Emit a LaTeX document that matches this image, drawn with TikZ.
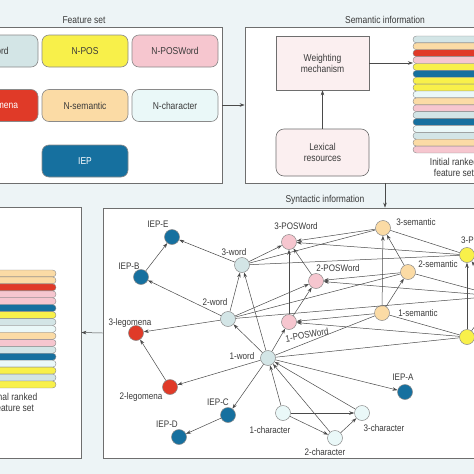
\documentclass[tikz,border=0pt]{standalone}
\usepackage{fontspec}
\setmainfont{Liberation Sans}[FakeStretch=0.85]
\usetikzlibrary{arrows.meta}
\definecolor{bg}{HTML}{EDF4F6}
\definecolor{frameline}{HTML}{6E6E6E}
\definecolor{boxline}{HTML}{8A8A8A}
\definecolor{txt}{HTML}{3A3A3A}
\definecolor{edge}{HTML}{4A4A4A}
\definecolor{cgrey}{HTML}{D3E5E6}
\definecolor{cyel}{HTML}{F8F04A}
\definecolor{cpink}{HTML}{F6C6CF}
\definecolor{cred}{HTML}{E03A28}
\definecolor{cpeach}{HTML}{FBDBA5}
\definecolor{clight}{HTML}{EAF8F8}
\definecolor{cblue}{HTML}{16709F}
\definecolor{cwm}{HTML}{FBEFF0}
\newcommand\myfs[1]{\fontsize{#1}{#1}\selectfont}
\begin{document}
\begin{tikzpicture}[x=1pt,y=-1pt,
  frame/.style={draw=frameline, fill=white, line width=0.7pt, inner sep=0pt},
  ttl/.style={text=txt, font=\myfs{10}, inner sep=0pt},
  fbox/.style={draw=boxline, rounded corners=7pt, minimum width=86pt, minimum height=32pt, font=\myfs{10}, text=txt, line width=0.6pt, inner sep=0pt},
  wbox/.style={draw=frameline, fill=cwm, minimum width=93pt, font=\myfs{10}, text=txt, align=center, line width=0.6pt, inner sep=0pt},
  gn/.style={circle, draw=boxline, minimum size=15pt, inner sep=0pt, line width=0.5pt},
  lb/.style={text=txt, font=\myfs{9.5}, inner sep=0pt},
  arr/.style={-{Stealth[length=5pt,width=3.5pt]}, draw=edge, line width=0.5pt},
  ln/.style={draw=edge, line width=0.5pt},
  bar/.style={draw=boxline, line width=0.4pt, rounded corners=3.4pt}]
\useasboundingbox (0,0) rectangle (474,474);
\clip (0,0) rectangle (474,474);
\fill[bg] (-10,-10) rectangle (484,484);

% frames
\node[frame, minimum width=277pt, minimum height=156pt] (fs) at (83.5,105) {};
\node[frame, minimum width=280pt, minimum height=156pt] (sem) at (385,105) {};
\node[frame, minimum width=444pt, minimum height=250pt] (syn) at (325,333) {};
\node[frame, minimum width=141pt, minimum height=251pt] (fin) at (10.5,332.5) {};

\node[ttl] (tfs) at (84,20) {Feature set};
\node[ttl] (tsem) at (385,20) {Semantic information};
\node[ttl] (tsyn) at (325,200) {Syntactic information};

% feature set boxes
\node[fbox, fill=cgrey] (nword) at (-5,51) {N-word};
\node[fbox, fill=cyel] (npos) at (85,51) {N-POS};
\node[fbox, fill=cpink] (nposw) at (175,51) {N-POSWord};
\node[fbox, fill=cred, text=white] (nleg) at (-5,105.5) {N-legomena};
\node[fbox, fill=cpeach] (nsem) at (85,105.5) {N-semantic};
\node[fbox, fill=clight] (nchar) at (175,105.5) {N-character};
\node[fbox, fill=cblue, text=white] (iep) at (85,161) {IEP};

% semantic information
\node[wbox, minimum height=54pt] (wm) at (322.5,63) {Weighting\\[1pt]mechanism};
\node[wbox, minimum height=47pt, rounded corners=8pt] (lex) at (322.5,152.5) {Lexical\\[1pt]resources};
\coordinate (stk) at (413,63);

\foreach \c [count=\i from 0] in {cgrey,cpeach,cred,cpink,cyel,cblue,cyel,cyel,clight,cpeach,cpink,cgrey,cblue,clight,cgrey,cpeach,cpink}
  \draw[bar, fill=\c] (413,{36+\i*6.88}) rectangle (500,{36+(\i+1)*6.88});
\node[lb, font=\myfs{10}, align=center] (irk) at (454,167.5) {Initial ranked\\[1pt]feature set};

% final ranked
\foreach \c [count=\i from 0] in {cpeach,cpeach,cred,cpink,cpink,cblue,cyel,cgrey,clight,cpeach,cpink,cgrey,cblue,clight,cyel,cgrey,cyel}
  \draw[bar, fill=\c] (-30,{270+\i*6.94}) rectangle (56,{270+(\i+1)*6.94});
\node[lb, font=\myfs{10}, align=center] (frk) at (14,402.5) {Final ranked\\[1pt]feature set};

% block arrows
\draw[arr] (fs.east) -- (sem.west);
\draw[arr] (lex.north) -- (wm.south);
\draw[arr] (wm.east) -- (stk);
\draw[arr] (sem.south) -- (sem.south |- syn.north);
\draw[arr] (syn.west) -- (fin.east);

% graph nodes
\node[gn, fill=cblue] (iepe) at (172,237) {};
\node[gn, fill=cblue] (iepb) at (141,277) {};
\node[gn, fill=cgrey] (w3) at (242,265) {};
\node[gn, fill=cgrey] (w2) at (228,319) {};
\node[gn, fill=cgrey] (w1) at (268,358) {};
\node[gn, fill=cred] (leg3) at (136,333) {};
\node[gn, fill=cred] (leg2) at (170,387) {};
\node[gn, fill=cpink] (pw3) at (289,242) {};
\node[gn, fill=cpink] (pw2) at (316,281) {};
\node[gn, fill=cpink] (pw1) at (289,322) {};
\node[gn, fill=cpeach] (s3) at (383,228) {};
\node[gn, fill=cpeach] (s2) at (408,272) {};
\node[gn, fill=cpeach] (s1) at (382,313) {};
\node[gn, fill=cyel] (p3) at (467,255) {};
\node[gn, fill=cyel] (p2) at (497,296) {};
\node[gn, fill=cyel] (p1) at (467,337) {};
\node[gn, fill=cblue] (iepc) at (228,415) {};
\node[gn, fill=cblue] (iepd) at (179,437) {};
\node[gn, fill=cblue] (iepa) at (405,392) {};
\node[gn, fill=clight] (c1) at (283,413) {};
\node[gn, fill=clight] (c2) at (335,438) {};
\node[gn, fill=clight] (c3) at (362,413) {};

% labels
\node[lb] (liepe) at (158,224) {IEP-E};
\node[lb] (liepb) at (129,266) {IEP-B};
\node[lb] (lw3) at (234,252) {3-word};
\node[lb] (lw2) at (215,302) {2-word};
\node[lb] (lw1) at (242,356) {1-word};
\node[lb] (lleg3) at (130,323) {3-legomena};
\node[lb] (lleg2) at (141,397) {2-legomena};
\node[lb] (lpw3) at (296,226) {3-POSWord};
\node[lb] (lpw2) at (338,268) {2-POSWord};
\node[lb, rotate=10] (lpw1) at (307,335) {1-POSWord};
\node[lb] (ls3) at (416,222) {3-semantic};
\node[lb] (ls2) at (438,264) {2-semantic};
\node[lb] (ls1) at (418,313) {1-semantic};
\node[lb, anchor=west] (lp3) at (461,240) {3-POS};
\node[lb] (liepc) at (218,402) {IEP-C};
\node[lb] (liepd) at (167,424) {IEP-D};
\node[lb] (liepa) at (403,377) {IEP-A};
\node[lb] (lc1) at (270,430) {1-character};
\node[lb] (lc2) at (325,452) {2-character};
\node[lb] (lc3) at (384,428) {3-character};

% graph edges
\draw[arr] (w3) -- (iepe);
\draw[arr] (iepb) -- (iepe);
\draw[arr] (w2) -- (iepb);
\draw[arr] (w2) -- (w3);
\draw[arr] (w1) -- (w3);
\draw[arr] (w1) -- (w2);
\draw[arr] (w2) -- (leg3);
\draw[arr] (leg2) -- (leg3);
\draw[arr] (w1) -- (leg2);
\draw[arr] (w1) -- (iepc);
\draw[arr] (iepc) -- (iepd);
\draw[arr] (w1) -- (iepa);
\draw[arr] (c1) -- (w1);
\draw[arr] (c2) -- (w1);
\draw[arr] (c3) -- (w1);
\draw[arr] (c1) -- (c3);
\draw[arr] (c1) -- (c2);
\draw[arr] (c2) -- (c3);
\draw[arr] (pw1) -- (pw2);
\draw[arr] (pw2) -- (pw3);
\draw[arr] (pw1) -- (pw3);
\draw[arr] (s1) -- (s2);
\draw[arr] (s2) -- (s3);
\draw[arr] (s1) -- (s3);
\draw[arr] (p1) -- (p3);
\draw[arr] (p1) -- (p2);
\draw[arr] (p2) -- (p3);
\draw[arr] (w1) -- (pw1);
\draw[arr] (w2) -- (pw2);
\draw[arr] (w3) -- (pw3);
\draw[arr] (s1) -- (pw1);
\draw[arr] (s2) -- (pw2);
\draw[arr] (s3) -- (pw3);
\draw[arr] (p1) -- (pw1);
\draw[arr] (p2) -- (pw2);
\draw[arr] (p3) -- (pw3);
\draw[ln] (w1) -- (s1);
\draw[ln] (w2) -- (s2);
\draw[ln] (w3) -- (s3);
\draw[ln] (w1) -- (p1);
\draw[ln] (w2) -- (p2);
\draw[ln] (w3) -- (p3);
\draw[ln] (s1) -- (p1);
\draw[ln] (s2) -- (p2);
\draw[ln] (s3) -- (p3);
\end{tikzpicture}
\end{document}
